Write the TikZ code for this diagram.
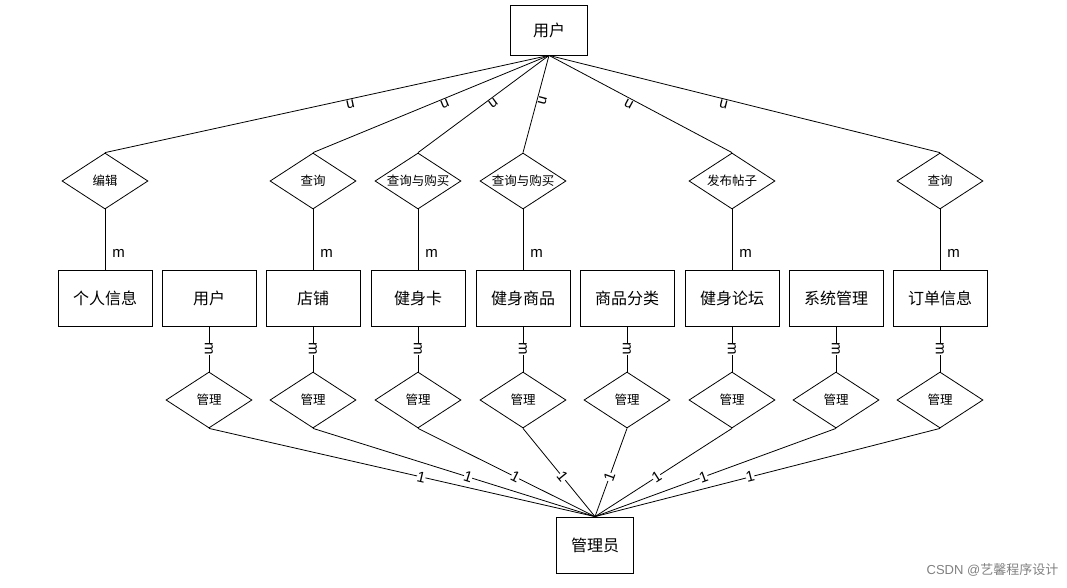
\documentclass[tikz,border=0pt]{standalone}
\usepackage{fontspec}
\setmainfont{Liberation Sans}
\newfontfamily\cjk{Noto Sans CJK SC}
\usetikzlibrary{shapes.geometric}
\begin{document}
\begin{tikzpicture}[x=1pt,y=-1pt,
  ent/.style={draw,thick,minimum width=94pt,minimum height=56pt,inner sep=0pt,font=\cjk\fontsize{16}{16}\selectfont},
  rel/.style={draw,diamond,aspect=1.5,minimum width=86pt,minimum height=56pt,inner sep=0pt,font=\cjk\fontsize{12.5}{12.5}\selectfont},
  lab/.style={font=\fontsize{15}{15}\selectfont,inner sep=1pt},
  every path/.style={thick}]
\useasboundingbox (0,0) rectangle (1067,587);
\node[ent,minimum width=77pt,minimum height=50pt] (u) at (549,30) {用户};
\node[ent,minimum width=77pt,minimum height=56pt] (a) at (595,545) {管理员};
\foreach \n/\x/\t in {e1/105/个人信息,e2/209/用户,e3/313/店铺,e4/418/健身卡,e5/523/健身商品,e6/627/商品分类,e7/732/健身论坛,e8/836/系统管理,e9/940/订单信息}
  \node[ent] (\n) at (\x,298) {\t};
\foreach \n/\x/\t/\e in {r1/105/编辑/e1,r3/313/查询/e3,r4/418/查询与购买/e4,r5/523/查询与购买/e5,r7/732/发布帖子/e7,r9/940/查询/e9}{
  \node[rel] (\n) at (\x,181) {\t};
  \draw (u.south) -- node[lab,pos=0.45,sloped,above,rotate=180]{n} (\n.north);
  \draw (\n.south) -- node[lab,right=6pt,yshift=-14pt]{m} (\e.north);
}
\foreach \i/\x in {2/209,3/313,4/418,5/523,6/627,7/732,8/836,9/940}{
  \node[rel] (m\i) at (\x,400) {管理};
  \draw (e\i.south) -- node[lab,rotate=-90,fill=white,inner sep=0pt]{m} (m\i.north);
  \draw (m\i.south) -- node[lab,pos=0.55,sloped,fill=white,inner sep=0pt]{1} (a.north);
}
\node[font=\fontsize{13}{13}\selectfont,text=gray,anchor=east] (w) at (1062,570) {CSDN @{\cjk 艺馨程序设计}};
\end{tikzpicture}
\end{document}
